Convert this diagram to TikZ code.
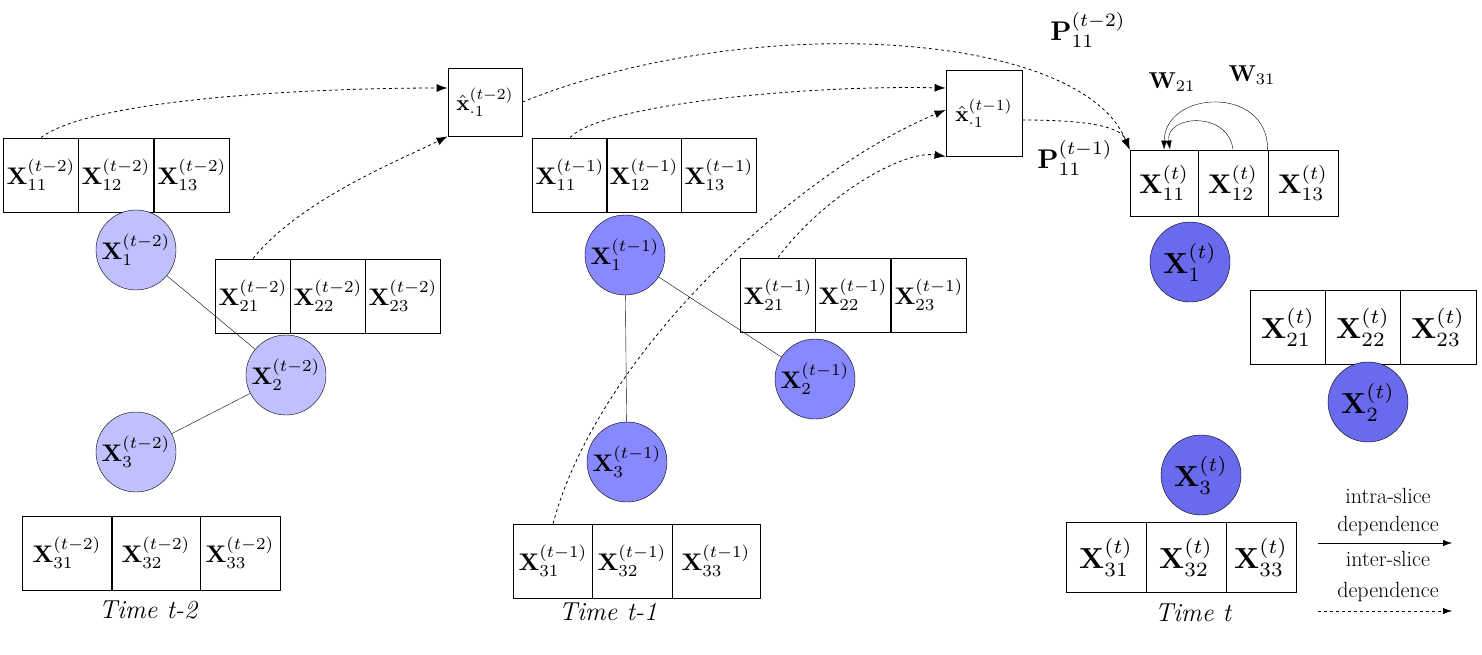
\documentclass[tikz,border=0pt]{standalone}
\usepackage{amsmath}
\usepackage{graphicx}
\usetikzlibrary{arrows.meta}
\newcommand\mq[2][2.4]{\scalebox{#1}{$#2$}}
\begin{document}
\begin{tikzpicture}[x=1pt,y=-1pt,
 cell/.style={draw,thick,minimum width=75pt,minimum height=74pt,inner sep=0pt},
 cir/.style={draw,circle,minimum size=80pt,inner sep=0pt},
 dep/.style={dashed,thick,-{Latex[length=11pt,width=8pt]}},
 lab/.style={font=\fontsize{22}{26}\selectfont},
 tim/.style={font=\fontsize{26}{30}\selectfont\itshape}]
\useasboundingbox (0,0) rectangle (1482,654);
\definecolor{ca}{RGB}{192,192,255}
\definecolor{cb}{RGB}{136,136,255}
\definecolor{cc}{RGB}{106,106,238}
% t-2
\node[cell] (a11) at (41,175) {\mq{\mathbf{X}_{11}^{(t-2)}}};
\node[cell] (a12) at (116,175) {\mq{\mathbf{X}_{12}^{(t-2)}}};
\node[cell] (a13) at (192,175) {\mq{\mathbf{X}_{13}^{(t-2)}}};
\node[cell] (a21) at (253,296) {\mq{\mathbf{X}_{21}^{(t-2)}}};
\node[cell] (a22) at (328,296) {\mq{\mathbf{X}_{22}^{(t-2)}}};
\node[cell] (a23) at (403,296) {\mq{\mathbf{X}_{23}^{(t-2)}}};
\node[cell,minimum width=89pt] (a31) at (67,553) {\mq{\mathbf{X}_{31}^{(t-2)}}};
\node[cell,minimum width=88pt] (a32) at (156,553) {\mq{\mathbf{X}_{32}^{(t-2)}}};
\node[cell,minimum width=80pt] (a33) at (240,553) {\mq{\mathbf{X}_{33}^{(t-2)}}};
\node[cir,fill=ca] (A1) at (136,250) {\mq{\mathbf{X}_{1}^{(t-2)}}};
\node[cir,fill=ca] (A2) at (286,375) {\mq{\mathbf{X}_{2}^{(t-2)}}};
\node[cir,fill=ca] (A3) at (136,452) {\mq{\mathbf{X}_{3}^{(t-2)}}};
\draw (A1)--(A2) (A2)--(A3);
\node[tim] (ta) at (148,610) {Time t-2};
% t-1
\node[cell,minimum width=74pt,minimum height=68pt] (ha) at (485,102) {\mq[2.2]{\hat{\mathbf{x}}_{\cdot 1}^{(t-2)}}};
\node[cell] (b11) at (570,175) {\mq{\mathbf{X}_{11}^{(t-1)}}};
\node[cell] (b12) at (644,175) {\mq{\mathbf{X}_{12}^{(t-1)}}};
\node[cell] (b13) at (719,175) {\mq{\mathbf{X}_{13}^{(t-1)}}};
\node[cell] (b21) at (778,295) {\mq{\mathbf{X}_{21}^{(t-1)}}};
\node[cell] (b22) at (853,295) {\mq{\mathbf{X}_{22}^{(t-1)}}};
\node[cell] (b23) at (929,295) {\mq{\mathbf{X}_{23}^{(t-1)}}};
\node[cell,minimum width=79pt] (b31) at (553,561) {\mq{\mathbf{X}_{31}^{(t-1)}}};
\node[cell,minimum width=80pt] (b32) at (632,561) {\mq{\mathbf{X}_{32}^{(t-1)}}};
\node[cell,minimum width=88pt] (b33) at (716,561) {\mq{\mathbf{X}_{33}^{(t-1)}}};
\node[cir,fill=cb] (B1) at (625,255) {\mq{\mathbf{X}_{1}^{(t-1)}}};
\node[cir,fill=cb] (B2) at (815,379) {\mq{\mathbf{X}_{2}^{(t-1)}}};
\node[cir,fill=cb] (B3) at (627,462) {\mq{\mathbf{X}_{3}^{(t-1)}}};
\draw (B1)--(B2) (B1)--(B3);
\node[tim] (tb) at (608,612) {Time t-1};
% t
\node[cell,minimum width=76pt,minimum height=86pt] (hb) at (984,113) {\mq[2.2]{\hat{\mathbf{x}}_{\cdot 1}^{(t-1)}}};
\node[cell,minimum width=68pt,minimum height=66pt] (c11) at (1164,183) {\mq[2.7]{\mathbf{X}_{11}^{(t)}}};
\node[cell,minimum width=70pt,minimum height=66pt] (c12) at (1233,183) {\mq[2.7]{\mathbf{X}_{12}^{(t)}}};
\node[cell,minimum width=70pt,minimum height=66pt] (c13) at (1303,183) {\mq[2.7]{\mathbf{X}_{13}^{(t)}}};
\node[cell] (c21) at (1288,327) {\mq[2.9]{\mathbf{X}_{21}^{(t)}}};
\node[cell] (c22) at (1363,327) {\mq[2.9]{\mathbf{X}_{22}^{(t)}}};
\node[cell,minimum width=76pt] (c23) at (1438,327) {\mq[2.9]{\mathbf{X}_{23}^{(t)}}};
\node[cell,minimum width=80pt,minimum height=70pt] (c31) at (1106,557) {\mq[2.9]{\mathbf{X}_{31}^{(t)}}};
\node[cell,minimum width=80pt,minimum height=70pt] (c32) at (1186,557) {\mq[2.9]{\mathbf{X}_{32}^{(t)}}};
\node[cell,minimum width=70pt,minimum height=70pt] (c33) at (1261,557) {\mq[2.9]{\mathbf{X}_{33}^{(t)}}};
\node[cir,fill=cc] (C1) at (1190,262) {\mq[2.9]{\mathbf{X}_{1}^{(t)}}};
\node[cir,fill=cc] (C2) at (1368,402) {\mq[2.9]{\mathbf{X}_{2}^{(t)}}};
\node[cir,fill=cc] (C3) at (1201,475) {\mq[2.9]{\mathbf{X}_{3}^{(t)}}};
\node[tim] (tc) at (1193,613) {Time t};
% dependencies
\draw[dep] (a11.north) .. controls (90,100) and (300,88) .. (ha.west|-0,88);
\draw[dep] (a21.north) .. controls (300,200) and (400,160) .. (ha.south west);
\draw[dep] (ha.east) .. controls (750,10) and (1080,30) .. (c11.north west);
\draw[dep] (b11.north) .. controls (600,105) and (800,85) .. (hb.west|-0,88);
\draw[dep] (b21.north) .. controls (820,200) and (900,150) .. (hb.south west);
\draw[dep] (b31.north) .. controls (600,350) and (800,170) .. (hb.west|-0,110);
\draw[dep] (hb.east|-0,120) .. controls (1080,120) and (1120,125) .. (c11.north west);
\node (p1) at (1088,30) {\mq[2.7]{\mathbf{P}_{11}^{(t-2)}}};
\node (p2) at (1075,158) {\mq[2.7]{\mathbf{P}_{11}^{(t-1)}}};
\draw[-{Latex[length=9pt,width=6pt]}] (c12.north) .. controls (1228,110) and (1165,115) .. ([xshift=6pt]c11.north);
\draw[-{Latex[length=9pt,width=6pt]}] (c13.north west) .. controls (1268,85) and (1165,90) .. ([xshift=0pt]c11.north);
\node (w1) at (1172,82) {\mq[2.3]{\mathbf{W}_{21}}};
\node (w2) at (1252,75) {\mq[2.3]{\mathbf{W}_{31}}};
% legend
\node[lab] (l1) at (1388,496) {intra-slice};
\node[lab] (l2) at (1388,526) {dependence};
\coordinate (la) at (1318,543); \coordinate (lb) at (1452,543);
\draw[-{Latex[length=9pt,width=6pt]}] (la)--(lb);
\node[lab] (l3) at (1388,559) {inter-slice};
\node[lab] (l4) at (1388,592) {dependence};
\coordinate (lc) at (1318,611); \coordinate (ld) at (1452,611);
\draw[dashed,-{Latex[length=9pt,width=6pt]}] (lc)--(ld);
\end{tikzpicture}
\end{document}
